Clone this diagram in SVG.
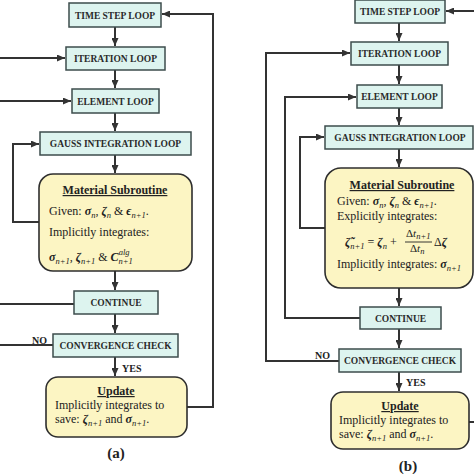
<svg xmlns="http://www.w3.org/2000/svg" width="474" height="474" viewBox="0 0 474 474">
<style>
.bx{fill:#ddf4ef;stroke:#3d4c4c;stroke-width:1.5}
.yb{fill:#fcf5c3;stroke:#2e2e2e;stroke-width:1.6}
.lb{font-family:"Liberation Serif","DejaVu Serif",serif;font-weight:bold;font-size:9.5px;fill:#2a2a2a;text-anchor:middle}
.ti{font-family:"Liberation Serif","DejaVu Serif",serif;font-weight:bold;font-size:12px;fill:#222;text-anchor:middle;text-decoration:underline}
.t{font-family:"Liberation Serif","DejaVu Serif",serif;font-size:12px;fill:#222}
.f{font-family:"Liberation Serif","DejaVu Serif",serif;font-size:11px;fill:#222}
.m{font-weight:bold;font-style:italic}
.s{font-style:italic;font-size:8.5px}
.ln{fill:none;stroke:#333;stroke-width:2}
.cap{font-family:"Liberation Serif","DejaVu Serif",serif;font-weight:bold;font-size:15px;fill:#222;text-anchor:middle}
.yn{font-family:"Liberation Serif","DejaVu Serif",serif;font-weight:bold;font-size:10px;fill:#222}
</style>
<defs>
<marker id="ah" markerUnits="userSpaceOnUse" markerWidth="8" markerHeight="7" refX="8" refY="3.5" orient="auto">
<path d="M0,0 L8,3.5 L0,7 z" fill="#333"/>
</marker>
</defs>
<rect width="474" height="474" fill="#fff"/>

<g id="connectors">
<!-- (a) -->
<line class="ln" x1="115" y1="27" x2="115" y2="46" marker-end="url(#ah)"/>
<line class="ln" x1="115" y1="70" x2="115" y2="88" marker-end="url(#ah)"/>
<line class="ln" x1="115" y1="113" x2="115" y2="131" marker-end="url(#ah)"/>
<line class="ln" x1="115" y1="155" x2="115" y2="173" marker-end="url(#ah)"/>
<line class="ln" x1="115" y1="271" x2="115" y2="290" marker-end="url(#ah)"/>
<line class="ln" x1="115" y1="314" x2="115" y2="333" marker-end="url(#ah)"/>
<line class="ln" x1="115" y1="357" x2="115" y2="376" marker-end="url(#ah)"/>
<line class="ln" x1="0" y1="58" x2="65" y2="58" marker-end="url(#ah)"/>
<line class="ln" x1="0" y1="101" x2="71" y2="101" marker-end="url(#ah)"/>
<polyline class="ln" points="39,222 13,222 13,144 39,144" marker-end="url(#ah)"/>
<line class="ln" x1="74" y1="304" x2="0" y2="304"/>
<line class="ln" x1="53" y1="345" x2="0" y2="345"/>
<polyline class="ln" points="187,407 213,407 213,14 162,14" marker-end="url(#ah)"/>
<text class="yn" x="32" y="344">NO</text>
<text class="yn" x="122" y="372">YES</text>
<!-- (b) -->
<line class="ln" x1="474" y1="11" x2="446" y2="11" marker-end="url(#ah)"/>
<line class="ln" x1="399" y1="23" x2="399" y2="41" marker-end="url(#ah)"/>
<line class="ln" x1="399" y1="65" x2="399" y2="84" marker-end="url(#ah)"/>
<line class="ln" x1="399" y1="108" x2="399" y2="125" marker-end="url(#ah)"/>
<line class="ln" x1="399" y1="149" x2="399" y2="167" marker-end="url(#ah)"/>
<line class="ln" x1="399" y1="288" x2="399" y2="306" marker-end="url(#ah)"/>
<line class="ln" x1="399" y1="329" x2="399" y2="348" marker-end="url(#ah)"/>
<line class="ln" x1="399" y1="372" x2="399" y2="391" marker-end="url(#ah)"/>
<polyline class="ln" points="339,361 266,361 266,53 350,53" marker-end="url(#ah)"/>
<polyline class="ln" points="360,318 285,318 285,97 356,97" marker-end="url(#ah)"/>
<polyline class="ln" points="325,228 300,228 300,137 324,137" marker-end="url(#ah)"/>
<line class="ln" x1="469" y1="422" x2="474" y2="422"/>
<text class="yn" x="315" y="359">NO</text>
<text class="yn" x="406" y="386">YES</text>
</g>

<!-- panel (a) -->
<g id="a-timestep"><rect class="bx" x="69" y="3" width="92" height="24"/><text class="lb" x="115" y="18.5">TIME STEP LOOP</text></g>
<g id="a-iteration"><rect class="bx" x="66" y="47" width="99" height="23"/><text class="lb" x="115.5" y="62">ITERATION LOOP</text></g>
<g id="a-element"><rect class="bx" x="72" y="89" width="87" height="24"/><text class="lb" x="115.5" y="104.5">ELEMENT LOOP</text></g>
<g id="a-gauss"><rect class="bx" x="40" y="132" width="151" height="23"/><text class="lb" x="115.5" y="147">GAUSS INTEGRATION LOOP</text></g>
<g id="a-material">
<rect class="yb" x="39" y="174" width="153" height="97" rx="14"/>
<text class="ti" x="115" y="194">Material Subroutine</text>
<text class="t" x="49" y="215">Given: <tspan class="m">σ</tspan><tspan class="s" dy="3">n</tspan><tspan dy="-3">, </tspan><tspan class="m">ζ</tspan><tspan class="s" dy="3">n</tspan><tspan dy="-3"> &amp; </tspan><tspan class="m">ϵ</tspan><tspan class="s" dy="3">n+1</tspan><tspan dy="-3">.</tspan></text>
<text class="t" x="49" y="236">Implicitly integrates:</text>
<text class="t" x="49" y="261"><tspan class="m">σ</tspan><tspan class="s" dy="3">n+1</tspan><tspan dy="-3">, </tspan><tspan class="m">ζ</tspan><tspan class="s" dy="3">n+1</tspan><tspan dy="-3"> &amp; </tspan><tspan class="m">C</tspan><tspan class="s" dy="-6">alg</tspan><tspan class="s" dx="-11" dy="9">n+1</tspan></text>
</g>
<g id="a-continue"><rect class="bx" x="74" y="291" width="84" height="23"/><text class="lb" x="116" y="306">CONTINUE</text></g>
<g id="a-convergence"><rect class="bx" x="53" y="334" width="125" height="23"/><text class="lb" x="115.5" y="349">CONVERGENCE CHECK</text></g>
<g id="a-update">
<rect class="yb" x="46" y="377" width="141" height="60" rx="12"/>
<text class="ti" x="116" y="395">Update</text>
<text class="t" x="55" y="409">Implicitly integrates to</text>
<text class="t" x="55" y="423">save: <tspan class="m">ζ</tspan><tspan class="s" dy="3">n+1</tspan><tspan dy="-3"> and </tspan><tspan class="m">σ</tspan><tspan class="s" dy="3">n+1</tspan><tspan dy="-3">.</tspan></text>
</g>
<text id="cap-a" class="cap" x="116" y="458">(a)</text>

<!-- panel (b) -->
<g id="b-timestep"><rect class="bx" x="355" y="0" width="90" height="23"/><text class="lb" x="400" y="14.5">TIME STEP LOOP</text></g>
<g id="b-iteration"><rect class="bx" x="351" y="42" width="97" height="23"/><text class="lb" x="399.5" y="57">ITERATION LOOP</text></g>
<g id="b-element"><rect class="bx" x="357" y="85" width="85" height="23"/><text class="lb" x="399.5" y="100">ELEMENT LOOP</text></g>
<g id="b-gauss"><rect class="bx" x="325" y="126" width="148" height="23"/><text class="lb" x="400" y="141">GAUSS INTEGRATION LOOP</text></g>
<g id="b-material">
<rect class="yb" x="325" y="168" width="148" height="120" rx="16"/>
<text class="ti" x="402" y="189">Material Subroutine</text>
<text class="t" x="337" y="205">Given: <tspan class="m">σ</tspan><tspan class="s" dy="3">n</tspan><tspan dy="-3">, </tspan><tspan class="m">ζ</tspan><tspan class="s" dy="3">n</tspan><tspan dy="-3"> &amp; </tspan><tspan class="m">ϵ</tspan><tspan class="s" dy="3">n+1</tspan><tspan dy="-3">.</tspan></text>
<text class="t" x="337" y="220">Explicitly integrates:</text>
<text class="t" x="345" y="246"><tspan class="m">ζ̃</tspan><tspan class="s" dy="3">n+1</tspan><tspan dy="-3"> = </tspan><tspan class="m">ζ</tspan><tspan class="s" dy="3">n</tspan><tspan dy="-3"> +</tspan></text>
<text class="f" x="406" y="237">Δ<tspan font-style="italic">t</tspan><tspan class="s" dy="2">n+1</tspan></text>
<line x1="405" y1="242" x2="432" y2="242" stroke="#222" stroke-width="0.9"/>
<text class="f" x="410" y="252">Δ<tspan font-style="italic">t</tspan><tspan class="s" dy="2">n</tspan></text>
<text class="t" x="434" y="246">Δ<tspan class="m">ζ</tspan></text>
<text class="t" x="337" y="268">Implicitly integrates: <tspan class="m">σ</tspan><tspan class="s" dy="3">n+1</tspan></text>
</g>
<g id="b-continue"><rect class="bx" x="360" y="307" width="81" height="22"/><text class="lb" x="400.5" y="321.5">CONTINUE</text></g>
<g id="b-convergence"><rect class="bx" x="339" y="349" width="122" height="23"/><text class="lb" x="400" y="364">CONVERGENCE CHECK</text></g>
<g id="b-update">
<rect class="yb" x="331" y="392" width="138" height="57" rx="12"/>
<text class="ti" x="400" y="410">Update</text>
<text class="t" x="339" y="424">Implicitly integrates to</text>
<text class="t" x="339" y="438">save: <tspan class="m">ζ</tspan><tspan class="s" dy="3">n+1</tspan><tspan dy="-3"> and </tspan><tspan class="m">σ</tspan><tspan class="s" dy="3">n+1</tspan><tspan dy="-3">.</tspan></text>
</g>
<text id="cap-b" class="cap" x="408" y="471">(b)</text>
</svg>
